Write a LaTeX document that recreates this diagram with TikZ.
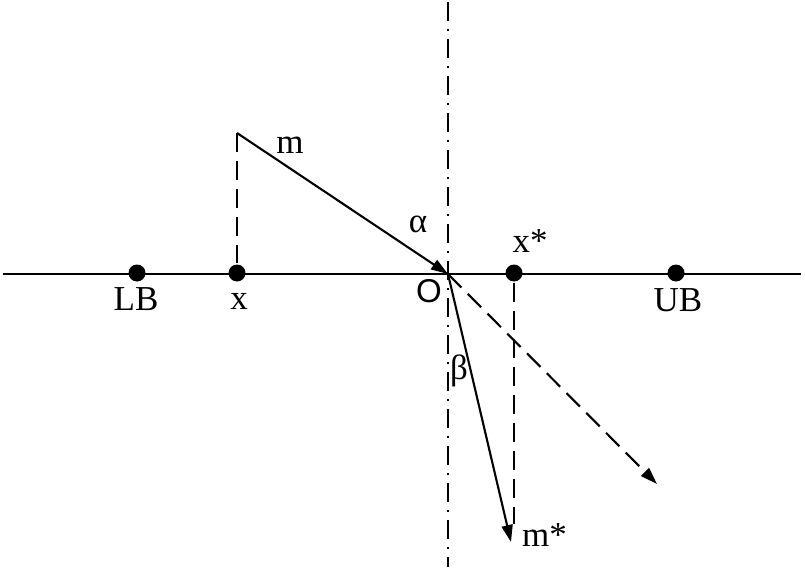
\documentclass[tikz,border=0pt]{standalone}
\usepackage{fontspec}
\setmainfont{Liberation Serif}
\newfontfamily\sansO{Liberation Sans}
\usetikzlibrary{arrows.meta}
\begin{document}
\begin{tikzpicture}[x=1pt,y=-1pt,
  line width=2.1pt,
  lbl/.style={font=\fontsize{35}{40}\selectfont, inner sep=0pt, anchor=base},
  dotnode/.style={circle, fill=black, inner sep=0pt, minimum size=17pt},
  dsh/.style={dash pattern=on 19pt off 9pt},
  dashdot/.style={line width=1.9pt, dash pattern=on 19pt off 8pt on 2pt off 8pt},
  tip/.style={-{Triangle[length=17pt,width=11pt]}}]
\useasboundingbox (0,0) rectangle (805,567);
% axes
\coordinate (Lend) at (3,274);
\coordinate (Rend) at (801,274);
\coordinate (Vtop) at (448,2);
\coordinate (Vbot) at (448,567);
\coordinate (O) at (448,274);
\draw (Lend) -- (Rend);
\draw[dashdot] (Vtop) -- (Vbot);
% points
\node[dotnode] (LB) at (137,273) {};
\node[dotnode] (X) at (237,273) {};
\node[dotnode] (Xs) at (514,273) {};
\node[dotnode] (UB) at (676,273) {};
% vector m
\coordinate (M) at (237,133);
\draw[dsh] (M) -- (X);
\draw[tip] (M) -- (O);
% reflected
\coordinate (Ms) at (511,542);
\coordinate (D) at (657,484);
\coordinate (XsEnd) at (514,524);
\draw[tip] (O) -- (Ms);
\draw[dsh,tip] (O) -- (D);
\draw[dsh] (Xs) -- (XsEnd);
% labels
\node[lbl] (tLB) at (136,310) {LB};
\node[lbl] (tx) at (239,309) {x};
\node[lbl] (tUB) at (678,311) {UB};
\node[lbl] (tm) at (290,153) {m};
\node[lbl] (ta) at (418,232) {α};
\node[lbl] (txs) at (530,252) {x*};
\node[lbl,font=\fontsize{33}{38}\sansO] (tO) at (429,302) {O};
\node[lbl] (tb) at (459,379) {β};
\node[lbl,anchor=base west] (tms) at (521,546) {m*};
\end{tikzpicture}
\end{document}
